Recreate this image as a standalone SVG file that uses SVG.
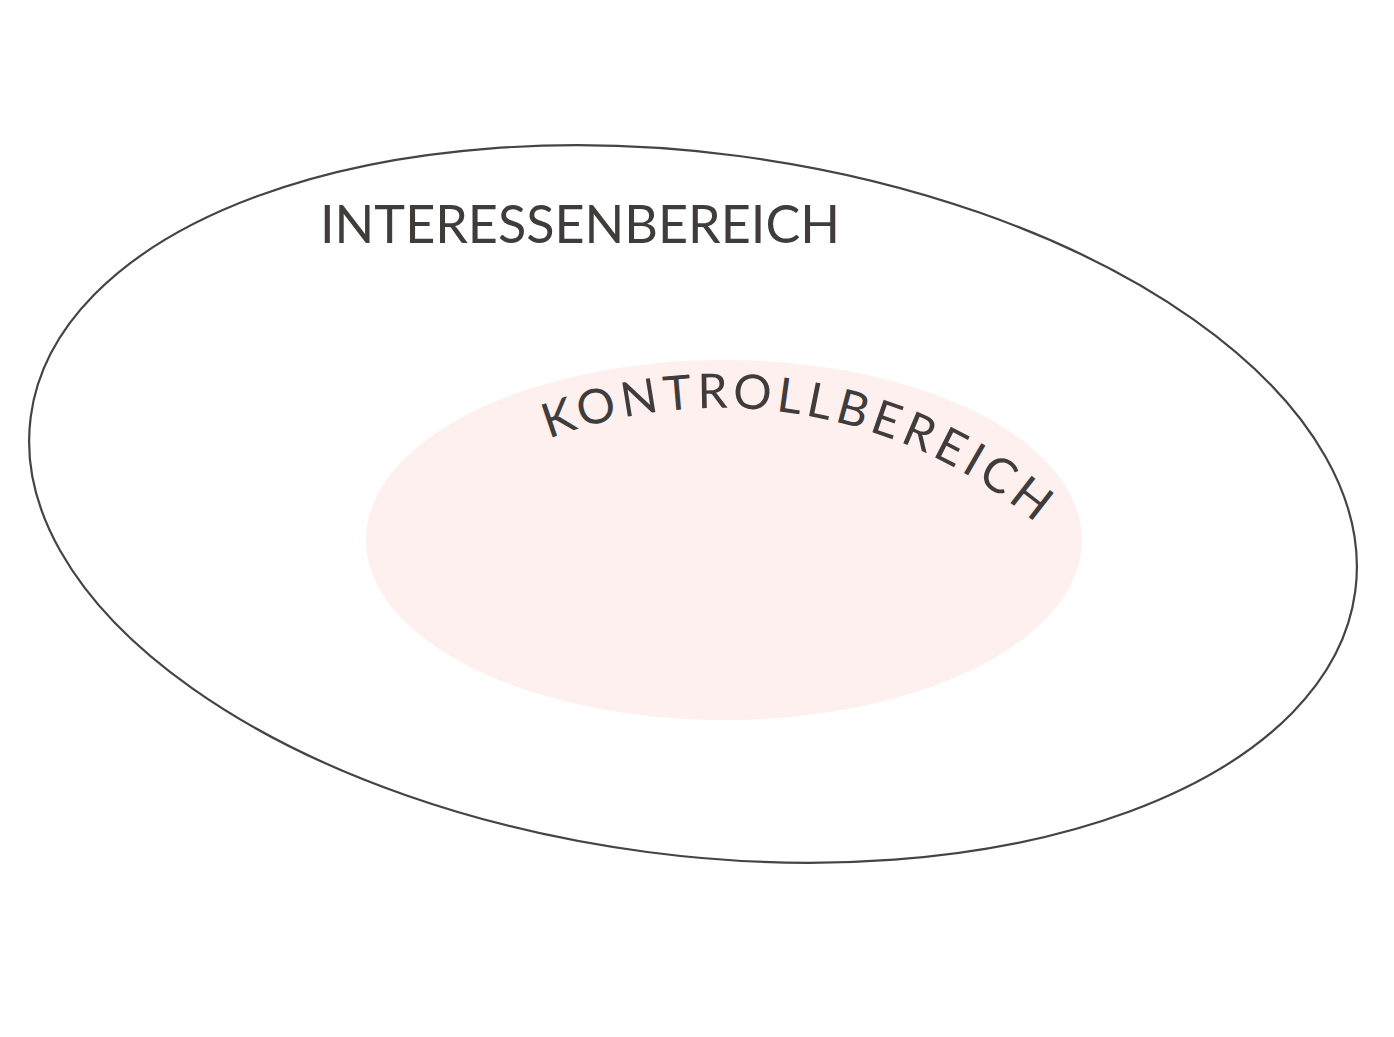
<svg xmlns="http://www.w3.org/2000/svg" width="1394" height="1037" viewBox="0 0 1394 1037">
  <style>
    .lbl { font-family: Lato, "Liberation Sans", "DejaVu Sans", sans-serif; fill: #403c3c; font-weight: 400; }
    .outer { fill: none; stroke: #444444; stroke-width: 2.2; }
    .inner { fill: #fdf0ee; stroke: none; }
  </style>
  <defs>
    <path id="arcPath" d="M 229 899 A 491 491 0 0 1 1211 899"/>
  </defs>
  <rect x="0" y="0" width="1394" height="1037" fill="#ffffff"/>
  <g id="interessenbereich">
    <ellipse class="outer" cx="693" cy="504" rx="668" ry="351" transform="rotate(7.5 693 504)"/>
    <text class="lbl" x="320" y="243" font-size="53" textLength="520" lengthAdjust="spacingAndGlyphs">INTERESSENBEREICH</text>
  </g>
  <g id="kontrollbereich">
    <ellipse class="inner" cx="724" cy="540" rx="358" ry="180"/>
    <text class="lbl" font-size="48"><textPath href="#arcPath" startOffset="596" textLength="518" lengthAdjust="spacing">KONTROLLBEREICH</textPath></text>
  </g>
</svg>
